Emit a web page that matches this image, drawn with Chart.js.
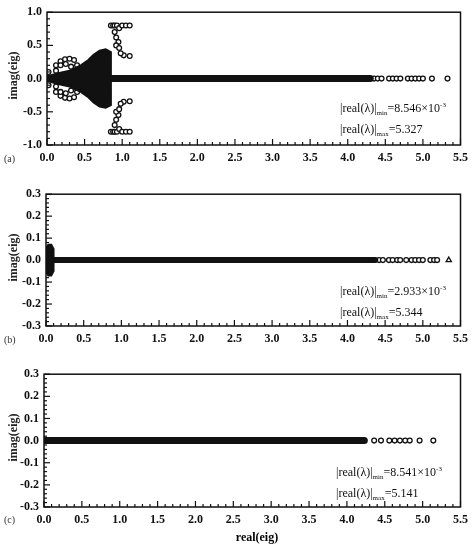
<!DOCTYPE html>
<html>
<head>
<meta charset="utf-8">
<script src="https://cdn.jsdelivr.net/npm/chart.js@4/dist/chart.umd.min.js"></script>
<style>
  body { margin: 0; background: #fff; font-family: "Liberation Serif", serif; }
  #wrap { position: relative; width: 474px; height: 548px; }
  canvas { position: absolute; left: 0; }
  .ylab { position: absolute; left: -22px; width: 70px; text-align: center; transform: rotate(-90deg);
          font-size: 12px; font-weight: bold; color: #222; }
  .tag { position: absolute; left: 4px; font-size: 10px; color: #333; }
  .note { position: absolute; font-size: 12px; color: #111; line-height: 16px; }
  .note sub { font-size: 7px; }
  .note sup { font-size: 7px; }
  #xlab { position: absolute; left: 0; width: 474px; top: 530px; padding-left: 40px; box-sizing: border-box;
          text-align: center; font-size: 12px; font-weight: bold; }
</style>
</head>
<body>
<div id="wrap">
  <canvas id="ca" width="474" height="170" style="top:0px"></canvas>
  <canvas id="cb" width="474" height="170" style="top:182px"></canvas>
  <canvas id="cc" width="474" height="170" style="top:362px"></canvas>
  <div class="ylab" style="top:68px">imag(eig)</div>
  <div class="ylab" style="top:250px">imag(eig)</div>
  <div class="ylab" style="top:430px">imag(eig)</div>
  <div class="tag" style="top:153px">(a)</div>
  <div class="tag" style="top:334px">(b)</div>
  <div class="tag" style="top:514px">(c)</div>
  <div class="note" style="left:340px;top:97px">|real(λ)|<sub>min</sub>=8.546×10<sup>-3</sup><br>|real(λ)|<sub>max</sub>=5.327</div>
  <div class="note" style="left:340px;top:280px">|real(λ)|<sub>min</sub>=2.933×10<sup>-3</sup><br>|real(λ)|<sub>max</sub>=5.344</div>
  <div class="note" style="left:336px;top:461px">|real(λ)|<sub>min</sub>=8.541×10<sup>-3</sup><br>|real(λ)|<sub>max</sub>=5.141</div>
  <div id="xlab">real(eig)</div>
</div>
<script>
// x axis ticks shared by all panels
const xTicks = [0, 0.5, 1.0, 1.5, 2.0, 2.5, 3.0, 3.5, 4.0, 4.5, 5.0, 5.5];
const yTicksA = [-1.0, -0.5, 0.0, 0.5, 1.0];
const yTicksB = [-0.3, -0.2, -0.1, 0.0, 0.1, 0.2, 0.3];

// panel (a): dense band on the real axis, cluster outline, scattered eigenvalues
const bandA = [0.0, 4.3];
const blobA_x = [0.02, 0.15, 0.3, 0.45, 0.55, 0.62, 0.7, 0.78, 0.85, 0.85, 0.78, 0.7, 0.62, 0.55, 0.45, 0.3, 0.15, 0.02, 0.02];
const blobA_y = [0.04, 0.08, 0.12, 0.2, 0.28, 0.36, 0.42, 0.44, 0.4, -0.4, -0.44, -0.42, -0.36, -0.28, -0.2, -0.12, -0.08, -0.04, 0.04];
const ptsA_x = [0.02, 0.02, 0.12, 0.12, 0.18, 0.18, 0.24, 0.24, 0.3, 0.3, 0.36, 0.36, 0.4, 0.4, 0.12, 0.12, 0.18, 0.18, 0.25, 0.25, 0.32, 0.32,
  0.85, 0.88, 0.9, 0.93, 0.96, 1.0, 1.05, 1.1, 0.85, 0.88, 0.9, 0.93, 0.96, 1.0, 1.05, 1.1,
  0.9, 0.92, 0.95, 0.9, 0.92, 0.95, 0.92, 0.96, 0.92, 0.96, 1.02, 1.1, 1.02, 1.1, 0.98, 0.98,
  4.35, 4.4, 4.45, 4.55, 4.6, 4.65, 4.7, 4.8, 4.85, 4.9, 4.95, 5.0, 5.12, 5.327];
const ptsA_y = [0.1, -0.1, 0.2, -0.2, 0.26, -0.26, 0.29, -0.29, 0.3, -0.3, 0.28, -0.28, 0.2, -0.2, 0.12, -0.12, 0.2, -0.2, 0.22, -0.22, 0.18, -0.18,
  0.8, 0.8, 0.8, 0.8, 0.76, 0.8, 0.8, 0.8, -0.8, -0.8, -0.8, -0.8, -0.76, -0.8, -0.8, -0.8,
  0.7, 0.62, 0.55, -0.7, -0.62, -0.55, 0.5, 0.46, -0.5, -0.46, 0.35, 0.34, -0.35, -0.34, 0.38, -0.38,
  0, 0, 0, 0, 0, 0, 0, 0, 0, 0, 0, 0, 0, 0];

// panel (b)
const bandB = [0.0, 4.37];
const blobB_x = [0.0, 0.03, 0.07, 0.1, 0.1, 0.07, 0.03, 0.0, 0.0];
const blobB_y = [0.05, 0.07, 0.07, 0.05, -0.05, -0.07, -0.07, -0.05, 0.05];
const ptsB_x = [4.42, 4.47, 4.55, 4.6, 4.66, 4.7, 4.78, 4.85, 4.9, 4.95, 5.0, 5.1, 5.15, 5.19];
const triB_x = [5.344];

// panel (c)
const bandC = [0.0, 4.23];
const ptsC_x = [4.36, 4.45, 4.56, 4.63, 4.7, 4.77, 4.83, 4.96, 5.141];

function xy(xs, ys) { return xs.map((x, i) => ({ x: x, y: ys ? ys[i] : 0 })); }

const tickFont = { family: 'Liberation Serif', size: 12, weight: 'bold' };

// inward major/minor ticks like the original plot
const innerTicks = {
  id: 'innerTicks',
  afterDraw(chart, args, opts) {
    const { ctx, chartArea: a, scales } = chart;
    ctx.save();
    ctx.strokeStyle = '#111';
    ctx.lineWidth = 1.2;
    for (let v = 0; v <= 5.5001; v += 0.1) {
      const px = scales.x.getPixelForValue(v);
      const major = Math.abs(v * 2 - Math.round(v * 2)) < 1e-6;
      const len = major ? 6 : 3;
      ctx.beginPath(); ctx.moveTo(px, a.bottom); ctx.lineTo(px, a.bottom - len); ctx.stroke();
    }
    const ys = scales.y, step = opts.minor;
    for (let v = ys.min; v <= ys.max + 1e-6; v += step) {
      const py = ys.getPixelForValue(v);
      const major = Math.abs(v / opts.major - Math.round(v / opts.major)) < 1e-6;
      const len = major ? 6 : 3;
      ctx.beginPath(); ctx.moveTo(a.left, py); ctx.lineTo(a.left + len, py); ctx.stroke();
    }
    ctx.lineWidth = 1.5;
    ctx.strokeRect(a.left, a.top, a.right - a.left, a.bottom - a.top);
    ctx.restore();
  }
};

function makeChart(id, datasets, yTicks, ymin, ymax, minor, major, padTop, bottomH, left, right) {
  return new Chart(document.getElementById(id), {
    type: 'scatter',
    data: { datasets: datasets },
    options: {
      responsive: false,
      animation: false,
      layout: { padding: { top: padTop, right: right, left: 0, bottom: 0 } },
      plugins: { legend: { display: false }, tooltip: { enabled: false }, innerTicks: { minor: minor, major: major } },
      scales: {
        x: {
          type: 'linear', min: 0, max: 5.5,
          afterBuildTicks: s => { s.ticks = xTicks.map(v => ({ value: v })); },
          afterFit: s => { s.height = bottomH; },
          grid: { display: false, drawTicks: false },
          border: { display: false },
          ticks: { font: tickFont, color: '#111', padding: 6, callback: v => v.toFixed(1) }
        },
        y: {
          type: 'linear', min: ymin, max: ymax,
          afterBuildTicks: s => { s.ticks = yTicks.map(v => ({ value: v })); },
          afterFit: s => { s.width = left; },
          grid: { display: false, drawTicks: false },
          border: { display: false },
          ticks: { font: tickFont, color: '#111', padding: 5, callback: v => v.toFixed(1) }
        }
      }
    },
    plugins: [innerTicks]
  });
}

const circ = { pointStyle: 'circle', pointRadius: 2.4, pointBorderWidth: 1.3, borderColor: '#111', backgroundColor: '#fff', showLine: false };
function band(b, w) {
  return { data: xy(b), showLine: true, borderColor: '#111', borderWidth: w, pointRadius: 0, borderCapStyle: 'round' };
}
function blob(xs, ys) {
  return { data: xy(xs, ys), showLine: true, fill: 'shape', borderColor: '#111', backgroundColor: '#111', borderWidth: 2, pointRadius: 0 };
}

makeChart('ca', [
  blob(blobA_x, blobA_y),
  band(bandA, 7),
  Object.assign({ data: xy(ptsA_x, ptsA_y) }, circ)
], yTicksA, -1, 1, 0.1, 0.5, 4, 25, 47, 7);

makeChart('cb', [
  blob(blobB_x, blobB_y),
  band(bandB, 6),
  Object.assign({ data: xy(ptsB_x) }, circ),
  Object.assign({ data: xy(triB_x) }, circ, { pointStyle: 'triangle', pointRadius: 3 })
], yTicksB, -0.3, 0.3, 0.02, 0.1, 4, 26, 46, 7);

makeChart('cc', [
  band(bandC, 7),
  Object.assign({ data: xy(ptsC_x) }, circ)
], yTicksB, -0.3, 0.3, 0.02, 0.1, 4, 25, 44, 10);
</script>
</body>
</html>
